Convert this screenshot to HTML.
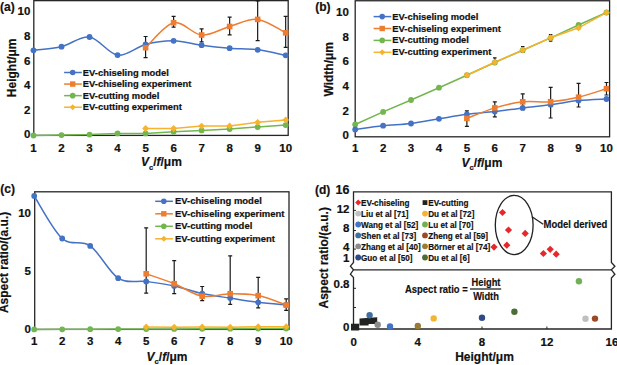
<!DOCTYPE html>
<html><head><meta charset="utf-8"><style>html,body{margin:0;padding:0;background:#fff;overflow:hidden;width:617px;height:365px;font-family:"Liberation Sans",sans-serif;}svg{display:block;}</style></head>
<body>
<svg width="617" height="365" viewBox="0 0 617 365" style='font-family:&quot;Liberation Sans&quot;,sans-serif;font-weight:bold'>
<rect width="617" height="365" fill="#fff"/>
<rect x="33.8" y="0.65" width="254.4" height="134.75" fill="none" stroke="#262626" stroke-width="1.3"/>
<path d="M33.50,135.50 L61.52,135.10 L89.54,134.60 L117.56,133.40 L145.58,133.40 L173.60,131.70 L201.62,130.40 L229.64,129.00 L257.66,127.00 L285.68,125.10" stroke="#72B64E" stroke-width="1.50" fill="none"/>
<path d="M145.58,128.50 L173.60,128.50 L201.62,126.10 L229.64,125.90 L257.66,122.30 L285.68,119.90" stroke="#F7B22E" stroke-width="1.50" fill="none"/>
<path d="M33.50,50.30 C38.17,49.70 52.18,48.92 61.52,46.70 C70.86,44.48 80.20,35.60 89.54,37.00 C98.88,38.40 108.22,53.87 117.56,55.10 C126.90,56.33 136.24,46.78 145.58,44.40 C154.92,42.02 164.26,40.67 173.60,40.80 C182.94,40.93 192.28,43.97 201.62,45.20 C210.96,46.43 220.30,47.43 229.64,48.20 C238.98,48.97 248.32,48.62 257.66,49.80 C267.00,50.98 281.01,54.38 285.68,55.30" stroke="#4472C4" stroke-width="1.50" fill="none"/>
<path d="M145.58,47.70 C150.25,43.53 164.26,24.82 173.60,22.70 C182.94,20.58 192.28,34.37 201.62,35.00 C210.96,35.63 220.30,29.10 229.64,26.50 C238.98,23.90 248.32,18.35 257.66,19.40 C267.00,20.45 281.01,30.57 285.68,32.80" stroke="#ED7D31" stroke-width="1.50" fill="none"/>
<path d="M145.58,36.50 V57.60 M143.58,36.50 H147.58 M143.58,57.60 H147.58" stroke="#1a1a1a" stroke-width="1.20" fill="none"/>
<path d="M173.60,16.40 V27.10 M171.60,16.40 H175.60 M171.60,27.10 H175.60" stroke="#1a1a1a" stroke-width="1.20" fill="none"/>
<path d="M201.62,28.80 V41.90 M199.62,28.80 H203.62 M199.62,41.90 H203.62" stroke="#1a1a1a" stroke-width="1.20" fill="none"/>
<path d="M229.64,17.20 V34.80 M227.64,17.20 H231.64 M227.64,34.80 H231.64" stroke="#1a1a1a" stroke-width="1.20" fill="none"/>
<path d="M257.66,0.90 V40.70 M255.66,0.90 H259.66 M255.66,40.70 H259.66" stroke="#1a1a1a" stroke-width="1.20" fill="none"/>
<path d="M285.68,16.40 V47.30 M283.68,16.40 H287.68 M283.68,47.30 H287.68" stroke="#1a1a1a" stroke-width="1.20" fill="none"/>
<circle cx="33.50" cy="135.50" r="2.90" fill="#72B64E"/>
<circle cx="61.52" cy="135.10" r="2.90" fill="#72B64E"/>
<circle cx="89.54" cy="134.60" r="2.90" fill="#72B64E"/>
<circle cx="117.56" cy="133.40" r="2.90" fill="#72B64E"/>
<circle cx="145.58" cy="133.40" r="2.90" fill="#72B64E"/>
<circle cx="173.60" cy="131.70" r="2.90" fill="#72B64E"/>
<circle cx="201.62" cy="130.40" r="2.90" fill="#72B64E"/>
<circle cx="229.64" cy="129.00" r="2.90" fill="#72B64E"/>
<circle cx="257.66" cy="127.00" r="2.90" fill="#72B64E"/>
<circle cx="285.68" cy="125.10" r="2.90" fill="#72B64E"/>
<path d="M145.58,125.10 L148.98,128.50 L145.58,131.90 L142.18,128.50 Z" fill="#F7B22E"/>
<path d="M173.60,125.10 L177.00,128.50 L173.60,131.90 L170.20,128.50 Z" fill="#F7B22E"/>
<path d="M201.62,122.70 L205.02,126.10 L201.62,129.50 L198.22,126.10 Z" fill="#F7B22E"/>
<path d="M229.64,122.50 L233.04,125.90 L229.64,129.30 L226.24,125.90 Z" fill="#F7B22E"/>
<path d="M257.66,118.90 L261.06,122.30 L257.66,125.70 L254.26,122.30 Z" fill="#F7B22E"/>
<path d="M285.68,116.50 L289.08,119.90 L285.68,123.30 L282.28,119.90 Z" fill="#F7B22E"/>
<circle cx="33.50" cy="50.30" r="2.90" fill="#4472C4"/>
<circle cx="61.52" cy="46.70" r="2.90" fill="#4472C4"/>
<circle cx="89.54" cy="37.00" r="2.90" fill="#4472C4"/>
<circle cx="117.56" cy="55.10" r="2.90" fill="#4472C4"/>
<circle cx="145.58" cy="44.40" r="2.90" fill="#4472C4"/>
<circle cx="173.60" cy="40.80" r="2.90" fill="#4472C4"/>
<circle cx="201.62" cy="45.20" r="2.90" fill="#4472C4"/>
<circle cx="229.64" cy="48.20" r="2.90" fill="#4472C4"/>
<circle cx="257.66" cy="49.80" r="2.90" fill="#4472C4"/>
<circle cx="285.68" cy="55.30" r="2.90" fill="#4472C4"/>
<rect x="142.78" y="44.90" width="5.60" height="5.60" fill="#ED7D31"/>
<rect x="170.80" y="19.90" width="5.60" height="5.60" fill="#ED7D31"/>
<rect x="198.82" y="32.20" width="5.60" height="5.60" fill="#ED7D31"/>
<rect x="226.84" y="23.70" width="5.60" height="5.60" fill="#ED7D31"/>
<rect x="254.86" y="16.60" width="5.60" height="5.60" fill="#ED7D31"/>
<rect x="282.88" y="30.00" width="5.60" height="5.60" fill="#ED7D31"/>
<path d="M64.10,72.50 H81.80" stroke="#4472C4" stroke-width="1.5"/>
<circle cx="72.70" cy="72.50" r="2.80" fill="#4472C4"/>
<text x="0" y="0" font-size="9.87" text-anchor="start" fill="#111" stroke="#111" stroke-width="0.20" transform="translate(82.80,75.58) scale(0.952,1)">EV-chiseling model</text>
<path d="M64.10,84.07 H81.80" stroke="#ED7D31" stroke-width="1.5"/>
<rect x="70.00" y="81.37" width="5.40" height="5.40" fill="#ED7D31"/>
<text x="0" y="0" font-size="9.87" text-anchor="start" fill="#111" stroke="#111" stroke-width="0.20" transform="translate(82.80,87.15) scale(0.952,1)">EV-chiseling experiment</text>
<path d="M64.10,95.64 H81.80" stroke="#72B64E" stroke-width="1.5"/>
<circle cx="72.70" cy="95.64" r="2.80" fill="#72B64E"/>
<text x="0" y="0" font-size="9.87" text-anchor="start" fill="#111" stroke="#111" stroke-width="0.20" transform="translate(82.80,98.72) scale(0.952,1)">EV-cutting model</text>
<path d="M64.10,107.21 H81.80" stroke="#F7B22E" stroke-width="1.5"/>
<path d="M72.70,104.21 L75.70,107.21 L72.70,110.21 L69.70,107.21 Z" fill="#F7B22E"/>
<text x="0" y="0" font-size="9.87" text-anchor="start" fill="#111" stroke="#111" stroke-width="0.20" transform="translate(82.80,110.29) scale(0.952,1)">EV-cutting experiment</text>
<text x="30.40" y="15.31" font-size="11.50" text-anchor="end" fill="#111" stroke="#111" stroke-width="0.20" >10</text>
<text x="30.40" y="39.91" font-size="11.50" text-anchor="end" fill="#111" stroke="#111" stroke-width="0.20" >8</text>
<text x="30.40" y="64.51" font-size="11.50" text-anchor="end" fill="#111" stroke="#111" stroke-width="0.20" >6</text>
<text x="30.40" y="89.11" font-size="11.50" text-anchor="end" fill="#111" stroke="#111" stroke-width="0.20" >4</text>
<text x="30.40" y="113.71" font-size="11.50" text-anchor="end" fill="#111" stroke="#111" stroke-width="0.20" >2</text>
<text x="30.40" y="138.41" font-size="11.50" text-anchor="end" fill="#111" stroke="#111" stroke-width="0.20" >0</text>
<text x="33.50" y="151.71" font-size="11.50" text-anchor="middle" fill="#111" stroke="#111" stroke-width="0.20" >1</text>
<text x="61.52" y="151.71" font-size="11.50" text-anchor="middle" fill="#111" stroke="#111" stroke-width="0.20" >2</text>
<text x="89.54" y="151.71" font-size="11.50" text-anchor="middle" fill="#111" stroke="#111" stroke-width="0.20" >3</text>
<text x="117.56" y="151.71" font-size="11.50" text-anchor="middle" fill="#111" stroke="#111" stroke-width="0.20" >4</text>
<text x="145.58" y="151.71" font-size="11.50" text-anchor="middle" fill="#111" stroke="#111" stroke-width="0.20" >5</text>
<text x="173.60" y="151.71" font-size="11.50" text-anchor="middle" fill="#111" stroke="#111" stroke-width="0.20" >6</text>
<text x="201.62" y="151.71" font-size="11.50" text-anchor="middle" fill="#111" stroke="#111" stroke-width="0.20" >7</text>
<text x="229.64" y="151.71" font-size="11.50" text-anchor="middle" fill="#111" stroke="#111" stroke-width="0.20" >8</text>
<text x="257.66" y="151.71" font-size="11.50" text-anchor="middle" fill="#111" stroke="#111" stroke-width="0.20" >9</text>
<text x="285.68" y="151.71" font-size="11.50" text-anchor="middle" fill="#111" stroke="#111" stroke-width="0.20" >10</text>
<text x="0.10" y="10.80" font-size="12.00" text-anchor="start" fill="#111" stroke="#111" stroke-width="0.20" >(a)</text>
<text x="0" y="0" font-size="12.00" text-anchor="middle" fill="#111" stroke="#111" stroke-width="0.2" transform="translate(16.00,67.80) rotate(-90)" style='font-family:&quot;Liberation Sans&quot;,sans-serif;font-weight:bold'>Height/μm</text>
<text x="141.00" y="166.30" font-size="12" fill="#111" stroke="#111" stroke-width="0.2" style='font-family:&quot;Liberation Sans&quot;,sans-serif;font-weight:bold'><tspan font-style="italic">V</tspan><tspan font-size="7.5" dy="3.3">c</tspan><tspan dy="-3.3">/</tspan><tspan font-style="italic">f</tspan>/μm</text>
<rect x="355.2" y="0.75" width="254.4" height="136.05" fill="none" stroke="#262626" stroke-width="1.3"/>
<path d="M355.20,124.50 L383.12,111.90 L411.04,100.00 L438.96,87.70 L466.88,75.20 L494.80,62.50 L522.72,50.20 L550.64,37.90 L578.56,25.00 L606.48,12.50" stroke="#72B64E" stroke-width="1.50" fill="none"/>
<path d="M466.88,75.20 L494.80,62.30 L522.72,50.10 L550.64,37.70 L578.56,27.80 L606.48,12.70" stroke="#F7B22E" stroke-width="1.50" fill="none"/>
<path d="M466.88,74.50 V76.00 M465.13,74.50 H468.63 M465.13,76.00 H468.63" stroke="#1a1a1a" stroke-width="1.20" fill="none"/>
<path d="M494.80,57.90 V64.50 M493.05,57.90 H496.55 M493.05,64.50 H496.55" stroke="#1a1a1a" stroke-width="1.20" fill="none"/>
<path d="M522.72,46.60 V52.50 M520.97,46.60 H524.47 M520.97,52.50 H524.47" stroke="#1a1a1a" stroke-width="1.20" fill="none"/>
<path d="M550.64,34.60 V41.20 M548.89,34.60 H552.39 M548.89,41.20 H552.39" stroke="#1a1a1a" stroke-width="1.20" fill="none"/>
<path d="M578.56,26.50 V29.00 M576.81,26.50 H580.31 M576.81,29.00 H580.31" stroke="#1a1a1a" stroke-width="1.20" fill="none"/>
<path d="M606.48,12.00 V13.30 M604.73,12.00 H608.23 M604.73,13.30 H608.23" stroke="#1a1a1a" stroke-width="1.20" fill="none"/>
<path d="M355.20,129.40 C359.85,128.78 373.81,126.68 383.12,125.70 C392.43,124.72 401.73,124.65 411.04,123.50 C420.35,122.35 429.65,120.33 438.96,118.80 C448.27,117.27 457.57,115.50 466.88,114.30 C476.19,113.10 485.49,112.67 494.80,111.60 C504.11,110.53 513.41,109.05 522.72,107.90 C532.03,106.75 541.33,105.92 550.64,104.70 C559.95,103.48 569.25,101.55 578.56,100.60 C587.87,99.65 601.83,99.27 606.48,99.00" stroke="#4472C4" stroke-width="1.50" fill="none"/>
<path d="M466.88,118.40 C471.53,116.65 485.49,110.67 494.80,107.90 C504.11,105.13 513.41,102.83 522.72,101.80 C532.03,100.77 541.33,102.47 550.64,101.70 C559.95,100.93 569.25,99.37 578.56,97.20 C587.87,95.03 601.83,90.12 606.48,88.70" stroke="#ED7D31" stroke-width="1.50" fill="none"/>
<path d="M466.88,110.90 V126.40 M464.88,110.90 H468.88 M464.88,126.40 H468.88" stroke="#1a1a1a" stroke-width="1.20" fill="none"/>
<path d="M494.80,101.80 V116.90 M492.80,101.80 H496.80 M492.80,116.90 H496.80" stroke="#1a1a1a" stroke-width="1.20" fill="none"/>
<path d="M522.72,93.90 V109.70 M520.72,93.90 H524.72 M520.72,109.70 H524.72" stroke="#1a1a1a" stroke-width="1.20" fill="none"/>
<path d="M550.64,87.40 V118.00 M548.64,87.40 H552.64 M548.64,118.00 H552.64" stroke="#1a1a1a" stroke-width="1.20" fill="none"/>
<path d="M578.56,83.30 V107.00 M576.56,83.30 H580.56 M576.56,107.00 H580.56" stroke="#1a1a1a" stroke-width="1.20" fill="none"/>
<path d="M606.48,82.50 V95.00 M604.48,82.50 H608.48 M604.48,95.00 H608.48" stroke="#1a1a1a" stroke-width="1.20" fill="none"/>
<circle cx="355.20" cy="124.50" r="2.90" fill="#72B64E"/>
<circle cx="383.12" cy="111.90" r="2.90" fill="#72B64E"/>
<circle cx="411.04" cy="100.00" r="2.90" fill="#72B64E"/>
<circle cx="438.96" cy="87.70" r="2.90" fill="#72B64E"/>
<circle cx="466.88" cy="75.20" r="2.90" fill="#72B64E"/>
<circle cx="494.80" cy="62.50" r="2.90" fill="#72B64E"/>
<circle cx="522.72" cy="50.20" r="2.90" fill="#72B64E"/>
<circle cx="550.64" cy="37.90" r="2.90" fill="#72B64E"/>
<circle cx="578.56" cy="25.00" r="2.90" fill="#72B64E"/>
<circle cx="606.48" cy="12.50" r="2.90" fill="#72B64E"/>
<path d="M466.88,71.80 L470.28,75.20 L466.88,78.60 L463.48,75.20 Z" fill="#F7B22E"/>
<path d="M494.80,58.90 L498.20,62.30 L494.80,65.70 L491.40,62.30 Z" fill="#F7B22E"/>
<path d="M522.72,46.70 L526.12,50.10 L522.72,53.50 L519.32,50.10 Z" fill="#F7B22E"/>
<path d="M550.64,34.30 L554.04,37.70 L550.64,41.10 L547.24,37.70 Z" fill="#F7B22E"/>
<path d="M578.56,24.40 L581.96,27.80 L578.56,31.20 L575.16,27.80 Z" fill="#F7B22E"/>
<path d="M606.48,9.30 L609.88,12.70 L606.48,16.10 L603.08,12.70 Z" fill="#F7B22E"/>
<circle cx="355.20" cy="129.40" r="2.90" fill="#4472C4"/>
<circle cx="383.12" cy="125.70" r="2.90" fill="#4472C4"/>
<circle cx="411.04" cy="123.50" r="2.90" fill="#4472C4"/>
<circle cx="438.96" cy="118.80" r="2.90" fill="#4472C4"/>
<circle cx="466.88" cy="114.30" r="2.90" fill="#4472C4"/>
<circle cx="494.80" cy="111.60" r="2.90" fill="#4472C4"/>
<circle cx="522.72" cy="107.90" r="2.90" fill="#4472C4"/>
<circle cx="550.64" cy="104.70" r="2.90" fill="#4472C4"/>
<circle cx="578.56" cy="100.60" r="2.90" fill="#4472C4"/>
<circle cx="606.48" cy="99.00" r="2.90" fill="#4472C4"/>
<rect x="464.08" y="115.60" width="5.60" height="5.60" fill="#ED7D31"/>
<rect x="492.00" y="105.10" width="5.60" height="5.60" fill="#ED7D31"/>
<rect x="519.92" y="99.00" width="5.60" height="5.60" fill="#ED7D31"/>
<rect x="547.84" y="98.90" width="5.60" height="5.60" fill="#ED7D31"/>
<rect x="575.76" y="94.40" width="5.60" height="5.60" fill="#ED7D31"/>
<rect x="603.68" y="85.90" width="5.60" height="5.60" fill="#ED7D31"/>
<path d="M373.60,16.60 H391.30" stroke="#4472C4" stroke-width="1.5"/>
<circle cx="382.20" cy="16.60" r="2.80" fill="#4472C4"/>
<text x="0" y="0" font-size="9.87" text-anchor="start" fill="#111" stroke="#111" stroke-width="0.20" transform="translate(392.30,19.68) scale(0.952,1)">EV-chiseling model</text>
<path d="M373.60,28.50 H391.30" stroke="#ED7D31" stroke-width="1.5"/>
<rect x="379.50" y="25.80" width="5.40" height="5.40" fill="#ED7D31"/>
<text x="0" y="0" font-size="9.87" text-anchor="start" fill="#111" stroke="#111" stroke-width="0.20" transform="translate(392.30,31.58) scale(0.952,1)">EV-chiseling experiment</text>
<path d="M373.60,40.40 H391.30" stroke="#72B64E" stroke-width="1.5"/>
<circle cx="382.20" cy="40.40" r="2.80" fill="#72B64E"/>
<text x="0" y="0" font-size="9.87" text-anchor="start" fill="#111" stroke="#111" stroke-width="0.20" transform="translate(392.30,43.48) scale(0.952,1)">EV-cutting model</text>
<path d="M373.60,52.30 H391.30" stroke="#F7B22E" stroke-width="1.5"/>
<path d="M382.20,49.30 L385.20,52.30 L382.20,55.30 L379.20,52.30 Z" fill="#F7B22E"/>
<text x="0" y="0" font-size="9.87" text-anchor="start" fill="#111" stroke="#111" stroke-width="0.20" transform="translate(392.30,55.38) scale(0.952,1)">EV-cutting experiment</text>
<text x="348.90" y="16.21" font-size="11.50" text-anchor="end" fill="#111" stroke="#111" stroke-width="0.20" >10</text>
<text x="348.90" y="40.91" font-size="11.50" text-anchor="end" fill="#111" stroke="#111" stroke-width="0.20" >8</text>
<text x="348.90" y="65.31" font-size="11.50" text-anchor="end" fill="#111" stroke="#111" stroke-width="0.20" >6</text>
<text x="348.90" y="90.11" font-size="11.50" text-anchor="end" fill="#111" stroke="#111" stroke-width="0.20" >4</text>
<text x="348.90" y="114.81" font-size="11.50" text-anchor="end" fill="#111" stroke="#111" stroke-width="0.20" >2</text>
<text x="348.90" y="139.31" font-size="11.50" text-anchor="end" fill="#111" stroke="#111" stroke-width="0.20" >0</text>
<text x="355.20" y="151.91" font-size="11.50" text-anchor="middle" fill="#111" stroke="#111" stroke-width="0.20" >1</text>
<text x="383.12" y="151.91" font-size="11.50" text-anchor="middle" fill="#111" stroke="#111" stroke-width="0.20" >2</text>
<text x="411.04" y="151.91" font-size="11.50" text-anchor="middle" fill="#111" stroke="#111" stroke-width="0.20" >3</text>
<text x="438.96" y="151.91" font-size="11.50" text-anchor="middle" fill="#111" stroke="#111" stroke-width="0.20" >4</text>
<text x="466.88" y="151.91" font-size="11.50" text-anchor="middle" fill="#111" stroke="#111" stroke-width="0.20" >5</text>
<text x="494.80" y="151.91" font-size="11.50" text-anchor="middle" fill="#111" stroke="#111" stroke-width="0.20" >6</text>
<text x="522.72" y="151.91" font-size="11.50" text-anchor="middle" fill="#111" stroke="#111" stroke-width="0.20" >7</text>
<text x="550.64" y="151.91" font-size="11.50" text-anchor="middle" fill="#111" stroke="#111" stroke-width="0.20" >8</text>
<text x="578.56" y="151.91" font-size="11.50" text-anchor="middle" fill="#111" stroke="#111" stroke-width="0.20" >9</text>
<text x="606.48" y="151.91" font-size="11.50" text-anchor="middle" fill="#111" stroke="#111" stroke-width="0.20" >10</text>
<text x="315.20" y="10.80" font-size="12.00" text-anchor="start" fill="#111" stroke="#111" stroke-width="0.20" >(b)</text>
<text x="0" y="0" font-size="12.00" text-anchor="middle" fill="#111" stroke="#111" stroke-width="0.2" transform="translate(332.60,69.30) rotate(-90)" style='font-family:&quot;Liberation Sans&quot;,sans-serif;font-weight:bold'>Width/μm</text>
<text x="461.50" y="166.70" font-size="12" fill="#111" stroke="#111" stroke-width="0.2" style='font-family:&quot;Liberation Sans&quot;,sans-serif;font-weight:bold'><tspan font-style="italic">V</tspan><tspan font-size="7.5" dy="3.3">c</tspan><tspan dy="-3.3">/</tspan><tspan font-style="italic">f</tspan>/μm</text>
<rect x="34.7" y="191.8" width="254.3" height="137.6" fill="none" stroke="#262626" stroke-width="1.3"/>
<path d="M34.20,329.40 L62.20,329.30 L90.20,329.20 L118.20,329.10 L146.20,329.00 L174.20,328.90 L202.20,328.80 L230.20,328.70 L258.20,328.60 L286.20,328.50" stroke="#72B64E" stroke-width="1.50" fill="none"/>
<path d="M146.20,327.00 L174.20,327.20 L202.20,327.00 L230.20,327.20 L258.20,326.70 L286.20,326.70" stroke="#F7B22E" stroke-width="1.50" fill="none"/>
<path d="M34.20,196.00 C38.87,203.08 52.87,230.18 62.20,238.50 C71.53,246.82 80.87,239.28 90.20,245.90 C99.53,252.52 108.87,272.27 118.20,278.20 C127.53,284.13 136.87,280.22 146.20,281.50 C155.53,282.78 164.87,283.88 174.20,285.90 C183.53,287.92 192.87,291.57 202.20,293.60 C211.53,295.63 220.87,296.65 230.20,298.10 C239.53,299.55 248.87,301.15 258.20,302.30 C267.53,303.45 281.53,304.55 286.20,305.00" stroke="#4472C4" stroke-width="1.50" fill="none"/>
<path d="M146.20,273.80 C150.87,275.45 164.87,279.97 174.20,283.70 C183.53,287.43 192.87,294.53 202.20,296.20 C211.53,297.87 220.87,293.80 230.20,293.70 C239.53,293.60 248.87,293.70 258.20,295.60 C267.53,297.50 281.53,303.52 286.20,305.10" stroke="#ED7D31" stroke-width="1.50" fill="none"/>
<path d="M146.20,227.90 V293.10 M144.20,227.90 H148.20 M144.20,293.10 H148.20" stroke="#1a1a1a" stroke-width="1.20" fill="none"/>
<path d="M174.20,260.70 V293.60 M172.20,260.70 H176.20 M172.20,293.60 H176.20" stroke="#1a1a1a" stroke-width="1.20" fill="none"/>
<path d="M202.20,286.50 V300.60 M200.20,286.50 H204.20 M200.20,300.60 H204.20" stroke="#1a1a1a" stroke-width="1.20" fill="none"/>
<path d="M230.20,255.90 V304.30 M228.20,255.90 H232.20 M228.20,304.30 H232.20" stroke="#1a1a1a" stroke-width="1.20" fill="none"/>
<path d="M258.20,277.40 V307.80 M256.20,277.40 H260.20 M256.20,307.80 H260.20" stroke="#1a1a1a" stroke-width="1.20" fill="none"/>
<path d="M286.20,298.90 V310.30 M284.20,298.90 H288.20 M284.20,310.30 H288.20" stroke="#1a1a1a" stroke-width="1.20" fill="none"/>
<circle cx="34.20" cy="329.40" r="2.90" fill="#72B64E"/>
<circle cx="62.20" cy="329.30" r="2.90" fill="#72B64E"/>
<circle cx="90.20" cy="329.20" r="2.90" fill="#72B64E"/>
<circle cx="118.20" cy="329.10" r="2.90" fill="#72B64E"/>
<circle cx="146.20" cy="329.00" r="2.90" fill="#72B64E"/>
<circle cx="174.20" cy="328.90" r="2.90" fill="#72B64E"/>
<circle cx="202.20" cy="328.80" r="2.90" fill="#72B64E"/>
<circle cx="230.20" cy="328.70" r="2.90" fill="#72B64E"/>
<circle cx="258.20" cy="328.60" r="2.90" fill="#72B64E"/>
<circle cx="286.20" cy="328.50" r="2.90" fill="#72B64E"/>
<path d="M146.20,323.60 L149.60,327.00 L146.20,330.40 L142.80,327.00 Z" fill="#F7B22E"/>
<path d="M174.20,323.80 L177.60,327.20 L174.20,330.60 L170.80,327.20 Z" fill="#F7B22E"/>
<path d="M202.20,323.60 L205.60,327.00 L202.20,330.40 L198.80,327.00 Z" fill="#F7B22E"/>
<path d="M230.20,323.80 L233.60,327.20 L230.20,330.60 L226.80,327.20 Z" fill="#F7B22E"/>
<path d="M258.20,323.30 L261.60,326.70 L258.20,330.10 L254.80,326.70 Z" fill="#F7B22E"/>
<path d="M286.20,323.30 L289.60,326.70 L286.20,330.10 L282.80,326.70 Z" fill="#F7B22E"/>
<circle cx="34.20" cy="196.00" r="2.90" fill="#4472C4"/>
<circle cx="62.20" cy="238.50" r="2.90" fill="#4472C4"/>
<circle cx="90.20" cy="245.90" r="2.90" fill="#4472C4"/>
<circle cx="118.20" cy="278.20" r="2.90" fill="#4472C4"/>
<circle cx="146.20" cy="281.50" r="2.90" fill="#4472C4"/>
<circle cx="174.20" cy="285.90" r="2.90" fill="#4472C4"/>
<circle cx="202.20" cy="293.60" r="2.90" fill="#4472C4"/>
<circle cx="230.20" cy="298.10" r="2.90" fill="#4472C4"/>
<circle cx="258.20" cy="302.30" r="2.90" fill="#4472C4"/>
<circle cx="286.20" cy="305.00" r="2.90" fill="#4472C4"/>
<rect x="143.40" y="271.00" width="5.60" height="5.60" fill="#ED7D31"/>
<rect x="171.40" y="280.90" width="5.60" height="5.60" fill="#ED7D31"/>
<rect x="199.40" y="293.40" width="5.60" height="5.60" fill="#ED7D31"/>
<rect x="227.40" y="290.90" width="5.60" height="5.60" fill="#ED7D31"/>
<rect x="255.40" y="292.80" width="5.60" height="5.60" fill="#ED7D31"/>
<rect x="283.40" y="302.30" width="5.60" height="5.60" fill="#ED7D31"/>
<path d="M155.20,201.30 H172.90" stroke="#4472C4" stroke-width="1.5"/>
<circle cx="163.80" cy="201.30" r="2.80" fill="#4472C4"/>
<text x="0" y="0" font-size="9.97" text-anchor="start" fill="#111" stroke="#111" stroke-width="0.20" transform="translate(174.90,204.42) scale(0.952,1)">EV-chiseling model</text>
<path d="M155.20,213.80 H172.90" stroke="#ED7D31" stroke-width="1.5"/>
<rect x="161.10" y="211.10" width="5.40" height="5.40" fill="#ED7D31"/>
<text x="0" y="0" font-size="9.97" text-anchor="start" fill="#111" stroke="#111" stroke-width="0.20" transform="translate(174.90,216.92) scale(0.952,1)">EV-chiseling experiment</text>
<path d="M155.20,226.30 H172.90" stroke="#72B64E" stroke-width="1.5"/>
<circle cx="163.80" cy="226.30" r="2.80" fill="#72B64E"/>
<text x="0" y="0" font-size="9.97" text-anchor="start" fill="#111" stroke="#111" stroke-width="0.20" transform="translate(174.90,229.42) scale(0.952,1)">EV-cutting model</text>
<path d="M155.20,238.80 H172.90" stroke="#F7B22E" stroke-width="1.5"/>
<path d="M163.80,235.80 L166.80,238.80 L163.80,241.80 L160.80,238.80 Z" fill="#F7B22E"/>
<text x="0" y="0" font-size="9.97" text-anchor="start" fill="#111" stroke="#111" stroke-width="0.20" transform="translate(174.90,241.92) scale(0.952,1)">EV-cutting experiment</text>
<text x="31.00" y="217.41" font-size="11.50" text-anchor="end" fill="#111" stroke="#111" stroke-width="0.20" >10</text>
<text x="31.00" y="275.11" font-size="11.50" text-anchor="end" fill="#111" stroke="#111" stroke-width="0.20" >5</text>
<text x="31.00" y="332.61" font-size="11.50" text-anchor="end" fill="#111" stroke="#111" stroke-width="0.20" >0</text>
<text x="34.20" y="345.11" font-size="11.50" text-anchor="middle" fill="#111" stroke="#111" stroke-width="0.20" >1</text>
<text x="62.20" y="345.11" font-size="11.50" text-anchor="middle" fill="#111" stroke="#111" stroke-width="0.20" >2</text>
<text x="90.20" y="345.11" font-size="11.50" text-anchor="middle" fill="#111" stroke="#111" stroke-width="0.20" >3</text>
<text x="118.20" y="345.11" font-size="11.50" text-anchor="middle" fill="#111" stroke="#111" stroke-width="0.20" >4</text>
<text x="146.20" y="345.11" font-size="11.50" text-anchor="middle" fill="#111" stroke="#111" stroke-width="0.20" >5</text>
<text x="174.20" y="345.11" font-size="11.50" text-anchor="middle" fill="#111" stroke="#111" stroke-width="0.20" >6</text>
<text x="202.20" y="345.11" font-size="11.50" text-anchor="middle" fill="#111" stroke="#111" stroke-width="0.20" >7</text>
<text x="230.20" y="345.11" font-size="11.50" text-anchor="middle" fill="#111" stroke="#111" stroke-width="0.20" >8</text>
<text x="258.20" y="345.11" font-size="11.50" text-anchor="middle" fill="#111" stroke="#111" stroke-width="0.20" >9</text>
<text x="286.20" y="345.11" font-size="11.50" text-anchor="middle" fill="#111" stroke="#111" stroke-width="0.20" >10</text>
<text x="0.30" y="193.20" font-size="12.00" text-anchor="start" fill="#111" stroke="#111" stroke-width="0.20" >(c)</text>
<text x="0" y="0" font-size="12.00" text-anchor="middle" fill="#111" stroke="#111" stroke-width="0.2" transform="translate(8.30,262.40) rotate(-90)" style='font-family:&quot;Liberation Sans&quot;,sans-serif;font-weight:bold'>Aspect ratio/(a.u.)</text>
<text x="146.60" y="360.50" font-size="12" fill="#111" stroke="#111" stroke-width="0.2" style='font-family:&quot;Liberation Sans&quot;,sans-serif;font-weight:bold'><tspan font-style="italic">V</tspan><tspan font-size="7.5" dy="3.3">c</tspan><tspan dy="-3.3">/</tspan><tspan font-style="italic">f</tspan>/μm</text>
<text x="315.00" y="193.50" font-size="12.00" text-anchor="start" fill="#111" stroke="#111" stroke-width="0.20" >(d)</text>
<path d="M353.50,262.40 V191.80 H611.40 V262.4 L614.9,266.3 L611.40,269.9 L614.9,274.3 L611.40,278.0 V329.00 H353.50 V277.6 L350.4,274.2 L353.50,269.9 L350.4,266.2 L353.50,262.4 Z" fill="none" stroke="#262626" stroke-width="1.3" stroke-linejoin="miter"/>
<path d="M353.50,269.90 H611.40" stroke="#262626" stroke-width="1.3"/>
<path d="M353.50,210.40 H356.00" stroke="#262626" stroke-width="1"/>
<path d="M353.50,230.50 H356.00" stroke="#262626" stroke-width="1"/>
<path d="M353.50,249.10 H356.00" stroke="#262626" stroke-width="1"/>
<path d="M353.50,288.30 H356.00" stroke="#262626" stroke-width="1"/>
<path d="M353.50,307.50 H356.00" stroke="#262626" stroke-width="1"/>
<path d="M417.80,329.00 V326.50" stroke="#262626" stroke-width="1"/>
<path d="M482.00,329.00 V326.50" stroke="#262626" stroke-width="1"/>
<path d="M546.90,329.00 V326.50" stroke="#262626" stroke-width="1"/>
<text x="349.50" y="193.51" font-size="12.50" text-anchor="end" fill="#111" stroke="#111" stroke-width="0.20" >16</text>
<text x="349.50" y="212.71" font-size="11.50" text-anchor="end" fill="#111" stroke="#111" stroke-width="0.20" >12</text>
<text x="349.50" y="231.91" font-size="11.50" text-anchor="end" fill="#111" stroke="#111" stroke-width="0.20" >8</text>
<text x="349.50" y="251.21" font-size="11.50" text-anchor="end" fill="#111" stroke="#111" stroke-width="0.20" >4</text>
<text x="349.50" y="262.21" font-size="11.50" text-anchor="end" fill="#111" stroke="#111" stroke-width="0.20" >1</text>
<text x="349.50" y="287.51" font-size="11.50" text-anchor="end" fill="#111" stroke="#111" stroke-width="0.20" >0.8</text>
<text x="349.50" y="330.71" font-size="11.50" text-anchor="end" fill="#111" stroke="#111" stroke-width="0.20" >0</text>
<text x="353.60" y="345.71" font-size="11.50" text-anchor="middle" fill="#111" stroke="#111" stroke-width="0.20" >0</text>
<text x="417.80" y="345.71" font-size="11.50" text-anchor="middle" fill="#111" stroke="#111" stroke-width="0.20" >4</text>
<text x="482.00" y="345.71" font-size="11.50" text-anchor="middle" fill="#111" stroke="#111" stroke-width="0.20" >8</text>
<text x="546.90" y="345.71" font-size="11.50" text-anchor="middle" fill="#111" stroke="#111" stroke-width="0.20" >12</text>
<text x="612.00" y="345.71" font-size="11.50" text-anchor="middle" fill="#111" stroke="#111" stroke-width="0.20" >16</text>
<text x="0" y="0" font-size="12.00" text-anchor="middle" fill="#111" stroke="#111" stroke-width="0.2" transform="translate(328.20,257.80) rotate(-90)" style='font-family:&quot;Liberation Sans&quot;,sans-serif;font-weight:bold'>Aspect ratio/(a.u.)</text>
<text x="484.50" y="361.40" font-size="12.00" text-anchor="middle" fill="#111" stroke="#111" stroke-width="0.20" >Height/μm</text>
<path d="M358.20,199.60 L361.20,202.60 L358.20,205.60 L355.20,202.60 Z" fill="#E8272A"/>
<text x="0" y="0" font-size="9.60" text-anchor="start" fill="#111" stroke="#111" stroke-width="0.20" transform="translate(361.00,206.06) scale(0.850,1)">EV-chiseling</text>
<circle cx="358.20" cy="213.60" r="2.90" fill="#BFBFBF"/>
<text x="0" y="0" font-size="9.60" text-anchor="start" fill="#111" stroke="#111" stroke-width="0.20" transform="translate(361.00,217.06) scale(0.850,1)">Liu et al [71]</text>
<circle cx="358.20" cy="224.50" r="2.90" fill="#4472C4"/>
<text x="0" y="0" font-size="9.60" text-anchor="start" fill="#111" stroke="#111" stroke-width="0.20" transform="translate(361.00,227.96) scale(0.850,1)">Wang et al [52]</text>
<circle cx="358.20" cy="235.40" r="2.90" fill="#3E6F9F"/>
<text x="0" y="0" font-size="9.60" text-anchor="start" fill="#111" stroke="#111" stroke-width="0.20" transform="translate(361.00,238.86) scale(0.850,1)">Shen et al [73]</text>
<circle cx="358.20" cy="246.30" r="2.90" fill="#8C8C8C"/>
<text x="0" y="0" font-size="9.60" text-anchor="start" fill="#111" stroke="#111" stroke-width="0.20" transform="translate(361.00,249.76) scale(0.850,1)">Zhang et al [40]</text>
<circle cx="358.20" cy="257.50" r="2.90" fill="#2E4A87"/>
<text x="0" y="0" font-size="9.60" text-anchor="start" fill="#111" stroke="#111" stroke-width="0.20" transform="translate(361.00,260.96) scale(0.850,1)">Guo et al [50]</text>
<rect x="422.60" y="200.20" width="4.80" height="4.80" fill="#222"/>
<text x="0" y="0" font-size="9.60" text-anchor="start" fill="#111" stroke="#111" stroke-width="0.20" transform="translate(428.20,206.06) scale(0.850,1)">EV-cutting</text>
<circle cx="425.00" cy="213.60" r="2.90" fill="#F5B335"/>
<text x="0" y="0" font-size="9.60" text-anchor="start" fill="#111" stroke="#111" stroke-width="0.20" transform="translate(428.20,217.06) scale(0.850,1)">Du et al [72]</text>
<circle cx="425.00" cy="224.50" r="2.90" fill="#72B057"/>
<text x="0" y="0" font-size="9.60" text-anchor="start" fill="#111" stroke="#111" stroke-width="0.20" transform="translate(428.20,227.96) scale(0.850,1)">Lu et al [70]</text>
<circle cx="425.00" cy="235.40" r="2.90" fill="#9C4A26"/>
<text x="0" y="0" font-size="9.60" text-anchor="start" fill="#111" stroke="#111" stroke-width="0.20" transform="translate(428.20,238.86) scale(0.850,1)">Zheng et al [59]</text>
<circle cx="425.00" cy="246.30" r="2.90" fill="#9B7A35"/>
<text x="0" y="0" font-size="9.60" text-anchor="start" fill="#111" stroke="#111" stroke-width="0.20" transform="translate(428.20,249.76) scale(0.850,1)">Börner et al [74]</text>
<circle cx="425.00" cy="257.50" r="2.90" fill="#4A6E35"/>
<text x="0" y="0" font-size="9.60" text-anchor="start" fill="#111" stroke="#111" stroke-width="0.20" transform="translate(428.20,260.96) scale(0.850,1)">Du et al [6]</text>
<path d="M502.50,208.90 L506.10,212.50 L502.50,216.10 L498.90,212.50 Z" fill="#E8272A"/>
<path d="M508.50,226.40 L512.10,230.00 L508.50,233.60 L504.90,230.00 Z" fill="#E8272A"/>
<path d="M525.20,229.80 L528.80,233.40 L525.20,237.00 L521.60,233.40 Z" fill="#E8272A"/>
<path d="M506.80,241.60 L510.40,245.20 L506.80,248.80 L503.20,245.20 Z" fill="#E8272A"/>
<path d="M494.00,243.50 L497.60,247.10 L494.00,250.70 L490.40,247.10 Z" fill="#E8272A"/>
<path d="M543.40,249.90 L547.00,253.50 L543.40,257.10 L539.80,253.50 Z" fill="#E8272A"/>
<path d="M550.20,245.70 L553.80,249.30 L550.20,252.90 L546.60,249.30 Z" fill="#E8272A"/>
<path d="M556.20,250.60 L559.80,254.20 L556.20,257.80 L552.60,254.20 Z" fill="#E8272A"/>
<ellipse cx="514.2" cy="225" rx="18.9" ry="29.6" fill="none" stroke="#222" stroke-width="1.3"/>
<path d="M532,216.7 L543.2,224.2" stroke="#222" stroke-width="1.3"/>
<text x="0" y="0" font-size="11.20" text-anchor="start" fill="#111" stroke="#111" stroke-width="0.20" transform="translate(543.60,228.23) scale(0.845,1)">Model derived</text>
<text x="0" y="0" font-size="11.40" text-anchor="start" fill="#111" stroke="#111" stroke-width="0.20" transform="translate(405.00,293.10) scale(0.830,1)">Aspect ratio =</text>
<path d="M470,289 H501.2" stroke="#222" stroke-width="1.3"/>
<text x="0" y="0" font-size="11.20" text-anchor="middle" fill="#111" stroke="#111" stroke-width="0.20" transform="translate(486.00,286.43) scale(0.830,1)">Height</text>
<text x="0" y="0" font-size="11.20" text-anchor="middle" fill="#111" stroke="#111" stroke-width="0.20" transform="translate(486.00,300.03) scale(0.830,1)">Width</text>
<path d="M351,323.7 H359.2 V330.5 H351 Z" fill="#222"/>
<path d="M359.5,318.6 L377.2,317.2 L377.2,323.9 L368.6,324 L368.6,325.4 L359.5,325.4 Z" fill="#222"/>
<circle cx="369.60" cy="315.20" r="3.20" fill="#3E6F9F"/>
<circle cx="377.70" cy="324.80" r="3.20" fill="#8C8C8C"/>
<circle cx="390.00" cy="326.40" r="3.20" fill="#4472C4"/>
<circle cx="417.80" cy="325.90" r="3.20" fill="#9B7A35"/>
<circle cx="433.70" cy="318.40" r="3.20" fill="#F5B335"/>
<circle cx="482.00" cy="317.70" r="3.20" fill="#2E4A87"/>
<circle cx="514.40" cy="311.80" r="3.20" fill="#4A6E35"/>
<circle cx="578.90" cy="281.20" r="3.20" fill="#72B057"/>
<circle cx="585.50" cy="318.80" r="3.20" fill="#BFBFBF"/>
<circle cx="595.00" cy="318.60" r="3.20" fill="#9C4A26"/>
</svg>
</body></html>
